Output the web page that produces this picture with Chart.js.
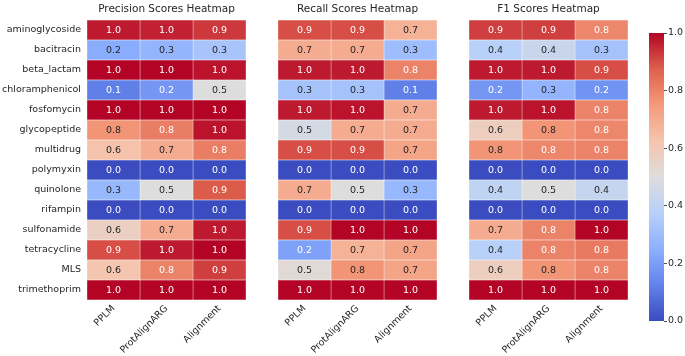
<!DOCTYPE html>
<html>
<head>
<meta charset="utf-8">
<script src="https://cdn.jsdelivr.net/npm/chart.js@4.4.1/dist/chart.umd.min.js"></script>
<style>
  html, body { margin: 0; padding: 0; background: #ffffff; }
  #wrap { position: relative; width: 685px; height: 356px; }
  .panel { position: absolute; top: 0; height: 356px; }
</style>
</head>
<body>
<div id="wrap">
  <div class="panel" style="left:0;width:250px"><canvas id="chartPrecision"></canvas></div>
  <div class="panel" style="left:270px;width:175px"><canvas id="chartRecall"></canvas></div>
  <div class="panel" style="left:461px;width:175px"><canvas id="chartF1"></canvas></div>
  <div class="panel" style="left:640px;width:45px"><canvas id="chartColorbar"></canvas></div>
</div>
<script>
const CLASSES = [
  'aminoglycoside', 'bacitracin', 'beta_lactam', 'chloramphenicol', 'fosfomycin',
  'glycopeptide', 'multidrug', 'polymyxin', 'quinolone', 'rifampin',
  'sulfonamide', 'tetracycline', 'MLS', 'trimethoprim',
];
const METHODS = ['PPLM', 'ProtAlignARG', 'Alignment'];

// one row per method, one value per class
const PRECISION = [
  [0.97, 0.24, 1.0, 0.12, 1.0, 0.76, 0.63, 0.0, 0.28, 0.0, 0.57, 0.9, 0.62, 1.0],
  [0.96, 0.27, 1.0, 0.18, 1.0, 0.81, 0.7, 0.0, 0.5, 0.0, 0.7, 0.97, 0.8, 1.0],
  [0.93, 0.33, 0.98, 0.5, 1.0, 0.98, 0.81, 0.0, 0.88, 0.0, 0.97, 1.0, 0.92, 1.0],
];
const RECALL = [
  [0.9, 0.7, 0.97, 0.32, 0.97, 0.47, 0.9, 0.0, 0.7, 0.0, 0.9, 0.21, 0.52, 1.0],
  [0.9, 0.7, 0.97, 0.32, 0.98, 0.7, 0.9, 0.0, 0.5, 0.0, 1.0, 0.68, 0.76, 1.0],
  [0.68, 0.3, 0.8, 0.12, 0.7, 0.7, 0.72, 0.0, 0.28, 0.0, 1.0, 0.72, 0.72, 1.0],
];
const F1 = [
  [0.92, 0.38, 0.97, 0.18, 0.97, 0.58, 0.76, 0.0, 0.4, 0.0, 0.7, 0.38, 0.58, 1.0],
  [0.92, 0.43, 0.97, 0.27, 0.98, 0.76, 0.79, 0.0, 0.5, 0.0, 0.8, 0.8, 0.76, 1.0],
  [0.79, 0.32, 0.9, 0.17, 0.8, 0.79, 0.8, 0.0, 0.42, 0.0, 1.0, 0.82, 0.8, 1.0],
];
const COLORBAR_TICKS = [0, 0.2, 0.4, 0.6, 0.8, 1.0];

// matplotlib coolwarm, sampled
const COOLWARM = [
  [0.0, [59, 76, 192]],
  [0.125, [98, 130, 234]],
  [0.25, [141, 176, 254]],
  [0.375, [184, 208, 249]],
  [0.5, [221, 221, 221]],
  [0.625, [245, 196, 173]],
  [0.75, [244, 154, 123]],
  [0.875, [222, 96, 77]],
  [1.0, [180, 4, 38]],
];

const FONT = 'DejaVu Sans';
const TEXT_DARK = '#262626';

function coolwarmRGB(v) {
  v = Math.max(0, Math.min(1, v));
  for (let i = 1; i < COOLWARM.length; i++) {
    const [p1, c1] = COOLWARM[i];
    const [p0, c0] = COOLWARM[i - 1];
    if (v <= p1) {
      const t = (v - p0) / (p1 - p0);
      return c0.map((c, k) => Math.round(c + (c1[k] - c) * t));
    }
  }
  return COOLWARM[COOLWARM.length - 1][1];
}

function rgbStr(rgb) {
  return `rgb(${rgb[0]}, ${rgb[1]}, ${rgb[2]})`;
}

// same rule seaborn uses to pick the annotation colour
function textColor(rgb) {
  const lin = rgb.map((c) => {
    const s = c / 255;
    return s <= 0.03928 ? s / 12.92 : Math.pow((s + 0.055) / 1.055, 2.4);
  });
  const lum = 0.2126 * lin[0] + 0.7152 * lin[1] + 0.0722 * lin[2];
  return lum < 0.408 ? '#ffffff' : TEXT_DARK;
}

const cellText = {
  id: 'cellText',
  afterDatasetsDraw(chart, args, opts) {
    const { ctx } = chart;
    ctx.save();
    ctx.font = `9.5px "${FONT}"`;
    ctx.textAlign = 'center';
    ctx.textBaseline = 'middle';
    chart.data.datasets.forEach((ds, m) => {
      const meta = chart.getDatasetMeta(m);
      meta.data.forEach((el, i) => {
        const v = opts.values[m][i];
        const { x, base, y } = el.getProps(['x', 'base', 'y'], true);
        ctx.fillStyle = textColor(coolwarmRGB(v));
        ctx.fillText(v.toFixed(1), (x + base) / 2, y + 0.5);
      });
    });
    ctx.restore();
  },
};

function renderHeatmap(canvasId, title, matrix, showLabels, padLeft, padRight) {
  const canvas = document.getElementById(canvasId);
  const datasets = METHODS.map((method, m) => ({
    label: method,
    data: matrix[m].map(() => 1),
    backgroundColor: matrix[m].map((v) => rgbStr(coolwarmRGB(v))),
    borderColor: '#ffffff',
    borderWidth: 0.5,
    borderSkipped: false,
    barPercentage: 1,
    categoryPercentage: 1,
  }));

  const yAxis = {
    stacked: true,
    display: showLabels,
    grid: { display: false, drawTicks: false },
    border: { display: false },
    ticks: {
      color: TEXT_DARK,
      font: { family: FONT, size: 9.5 },
      padding: 6,
      autoSkip: false,
    },
  };
  if (showLabels) {
    yAxis.afterFit = (scale) => {
      scale.width = 87;
    };
  }

  new Chart(canvas, {
    type: 'bar',
    data: { labels: CLASSES, datasets },
    plugins: [cellText],
    options: {
      responsive: true,
      maintainAspectRatio: false,
      animation: false,
      indexAxis: 'y',
      layout: { padding: { left: padLeft, right: padRight, top: 0, bottom: 0 } },
      plugins: {
        legend: { display: false },
        tooltip: { enabled: false },
        cellText: { values: matrix },
        title: {
          display: true,
          fullSize: false,
          text: title,
          color: TEXT_DARK,
          font: { family: FONT, size: 10.5, weight: 'normal', lineHeight: 1.2 },
          padding: { top: 3, bottom: 4.4 },
        },
      },
      scales: {
        x: {
          stacked: true,
          min: 0,
          max: METHODS.length,
          display: false,
        },
        xLabels: {
          type: 'category',
          labels: METHODS,
          offset: true,
          position: 'bottom',
          grid: { display: false, drawTicks: false },
          border: { display: false },
          ticks: {
            color: TEXT_DARK,
            font: { family: FONT, size: 9.5 },
            minRotation: 45,
            maxRotation: 45,
            autoSkip: false,
            padding: 3,
          },
          afterFit(scale) {
            scale.height = 56;
          },
        },
        y: yAxis,
      },
    },
  });
}

function renderColorbar() {
  const canvas = document.getElementById('chartColorbar');
  new Chart(canvas, {
    type: 'bar',
    data: {
      labels: [''],
      datasets: [{
        data: [[0, 1]],
        barPercentage: 1,
        categoryPercentage: 1,
        backgroundColor(context) {
          const area = context.chart.chartArea;
          if (!area) {
            return null;
          }
          const g = context.chart.ctx.createLinearGradient(0, area.bottom, 0, area.top);
          COOLWARM.forEach(([p, c]) => g.addColorStop(p, rgbStr(c)));
          return g;
        },
      }],
    },
    options: {
      responsive: true,
      maintainAspectRatio: false,
      animation: false,
      layout: { padding: { left: 9, right: 0, top: 33, bottom: 35 } },
      plugins: { legend: { display: false }, tooltip: { enabled: false } },
      scales: {
        x: { display: false },
        y: {
          position: 'right',
          min: 0,
          max: 1,
          afterBuildTicks(scale) {
            scale.ticks = COLORBAR_TICKS.map((value) => ({ value }));
          },
          grid: { drawOnChartArea: false, tickLength: 3, color: TEXT_DARK, lineWidth: 0.8 },
          border: { display: false },
          ticks: {
            color: TEXT_DARK,
            font: { family: FONT, size: 9.5 },
            padding: 1,
            callback: (v) => Number(v).toFixed(1),
          },
          afterFit(scale) {
            scale.width = 21;
          },
        },
      },
    },
  });
}

renderHeatmap('chartPrecision', 'Precision Scores Heatmap', PRECISION, true, 0, 4);
renderHeatmap('chartRecall', 'Recall Scores Heatmap', RECALL, false, 8, 8);
renderHeatmap('chartF1', 'F1 Scores Heatmap', F1, false, 8, 8);
renderColorbar();
</script>
</body>
</html>
